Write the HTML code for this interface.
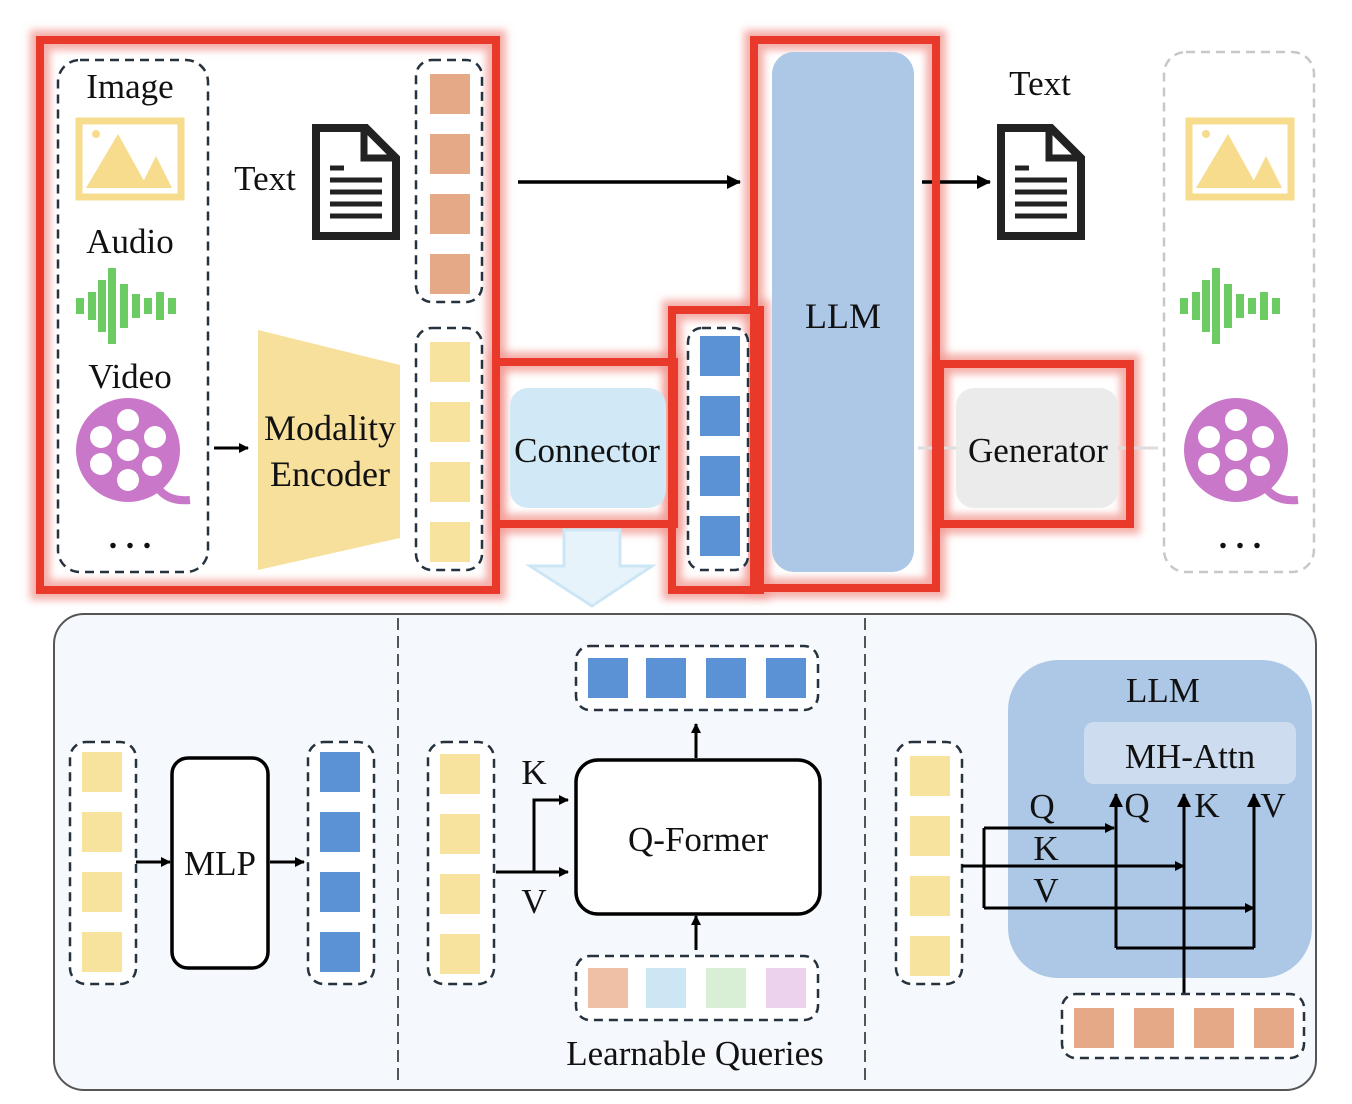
<!DOCTYPE html>
<html><head><meta charset="utf-8"><style>body{margin:0;background:#fff}svg{display:block}svg text{font-family:"Liberation Serif","DejaVu Serif",serif !important;fill:#111}</style></head><body>
<svg width="1352" height="1104" viewBox="0 0 1352 1104" xmlns="http://www.w3.org/2000/svg" font-family="Liberation Serif, serif">
<defs>
<marker id="ar" markerWidth="10" markerHeight="10" refX="9" refY="5" orient="auto" markerUnits="userSpaceOnUse"><path d="M0,0 L10,5 L0,10 z" fill="#000"/></marker>
<marker id="ab" markerWidth="14" markerHeight="14" refX="13" refY="7" orient="auto" markerUnits="userSpaceOnUse"><path d="M0,0 L14,7 L0,14 z" fill="#000"/></marker>
<filter id="blur" x="-10%" y="-10%" width="120%" height="120%"><feGaussianBlur stdDeviation="4"/></filter>
<g id="doc"><path d="M0,0 H50 L80,30 V108 H0 Z" fill="#fff" stroke="#222" stroke-width="8"/><path d="M48,2 V30 H78" fill="none" stroke="#222" stroke-width="7"/><g stroke="#222" stroke-width="5"><line x1="14" y1="40" x2="28" y2="40"/><line x1="14" y1="52" x2="66" y2="52"/><line x1="14" y1="64" x2="66" y2="64"/><line x1="14" y1="76" x2="66" y2="76"/><line x1="14" y1="88" x2="66" y2="88"/></g></g>
<g id="img"><rect x="3" y="3" width="102" height="76" fill="#fff" stroke="#f6dc8c" stroke-width="7"/><path d="M10,70 L42,16 L72,70 Z M64,70 L80,38 L96,70 Z" fill="#f6dc8c"/><circle cx="20" cy="16" r="4" fill="#f6dc8c"/></g>
<g id="wave" fill="#6dcb63"><rect x="0" y="30" width="8" height="16"/><rect x="12" y="24" width="8" height="28"/><rect x="22" y="12" width="8" height="52"/><rect x="32" y="0" width="8" height="76"/><rect x="44" y="16" width="8" height="44"/><rect x="56" y="26" width="8" height="24"/><rect x="68" y="30" width="8" height="16"/><rect x="80" y="24" width="8" height="28"/><rect x="92" y="30" width="8" height="16"/></g>
<g id="reel"><circle cx="0" cy="0" r="52" fill="#c977c8"/><path d="M30,38 Q40,52 62,50" stroke="#c977c8" stroke-width="8" fill="none"/><g fill="#fff"><circle cx="0" cy="0" r="11"/><circle cx="0" cy="-30" r="11"/><circle cx="0" cy="30" r="11"/><circle cx="-27" cy="-13" r="11"/><circle cx="27" cy="-13" r="11"/><circle cx="-27" cy="14" r="11"/><circle cx="24" cy="16" r="10"/></g></g>
</defs>

<g fill="none" stroke="#f29a93" stroke-width="20" stroke-opacity="0.8" filter="url(#blur)">
<rect x="40" y="40" width="456" height="550"/><rect x="754" y="40" width="182" height="548"/><rect x="496" y="362" width="178" height="162"/><rect x="672" y="310" width="88" height="280"/><rect x="940" y="364" width="190" height="160"/>
</g>

<rect x="58" y="60" width="150" height="512" rx="22" fill="#fff" stroke="#26323d" stroke-width="2.5" stroke-dasharray="9,6"/>
<text x="130" y="98" font-size="35" text-anchor="middle">Image</text>
<use href="#img" x="76" y="118"/>
<text x="130" y="253" font-size="35" text-anchor="middle">Audio</text>
<use href="#wave" x="76" y="268"/>
<text x="130" y="388" font-size="35" text-anchor="middle">Video</text>
<use href="#reel" x="128" y="450"/>
<text x="130" y="548" font-size="34" text-anchor="middle" font-weight="bold">. . .</text>
<line x1="214" y1="448" x2="248" y2="448" stroke="#000" stroke-width="3" marker-end="url(#ar)"/>
<polygon points="258,330 400,365 400,538 258,570" fill="#f7e09b"/>
<text x="330" y="440" font-size="36" text-anchor="middle">Modality</text>
<text x="330" y="486" font-size="36" text-anchor="middle">Encoder</text>
<text x="265" y="190" font-size="35" text-anchor="middle">Text</text>
<use href="#doc" x="316" y="128"/>
<rect x="416" y="60" width="66" height="242" rx="16" fill="#fff" stroke="#26323d" stroke-width="2.5" stroke-dasharray="9,6"/>
<g fill="#e6a987"><rect x="430" y="74" width="40" height="40"/><rect x="430" y="134" width="40" height="40"/><rect x="430" y="194" width="40" height="40"/><rect x="430" y="254" width="40" height="40"/></g>
<rect x="416" y="328" width="66" height="242" rx="16" fill="#fff" stroke="#26323d" stroke-width="2.5" stroke-dasharray="9,6"/>
<g fill="#f7e29e"><rect x="430" y="342" width="40" height="40"/><rect x="430" y="402" width="40" height="40"/><rect x="430" y="462" width="40" height="40"/><rect x="430" y="522" width="40" height="40"/></g>
<line x1="518" y1="182" x2="740" y2="182" stroke="#000" stroke-width="3.5" marker-end="url(#ab)"/>

<path d="M564,530 H620 V566 H652 L592,606 L530,566 H564 Z" fill="#e6f3fb" stroke="#cde6f5" stroke-width="3"/>

<rect x="510" y="388" width="156" height="120" rx="18" fill="#d1e9f6"/>
<text x="587" y="462" font-size="35" text-anchor="middle">Connector</text>
<rect x="688" y="328" width="60" height="242" rx="14" fill="#fff" stroke="#26323d" stroke-width="2.5" stroke-dasharray="9,6"/>
<g fill="#5b92d6"><rect x="700" y="336" width="40" height="40"/><rect x="700" y="396" width="40" height="40"/><rect x="700" y="456" width="40" height="40"/><rect x="700" y="516" width="40" height="40"/></g>
<rect x="772" y="52" width="142" height="520" rx="22" fill="#adc8e6"/>
<text x="843" y="328" font-size="36" text-anchor="middle">LLM</text>
<line x1="922" y1="182" x2="990" y2="182" stroke="#000" stroke-width="3.5" marker-end="url(#ab)"/>
<text x="1040" y="95" font-size="35" text-anchor="middle">Text</text>
<use href="#doc" x="1001" y="128"/>
<line x1="918" y1="448" x2="956" y2="448" stroke="#ddd" stroke-width="3"/>
<line x1="1118" y1="448" x2="1158" y2="448" stroke="#ddd" stroke-width="3"/>
<rect x="956" y="388" width="162" height="120" rx="18" fill="#ebebeb"/>
<text x="1038" y="462" font-size="35" text-anchor="middle">Generator</text>
<rect x="1164" y="52" width="150" height="520" rx="22" fill="#fff" stroke="#c8c8c8" stroke-width="2.5" stroke-dasharray="9,6"/>
<use href="#img" x="1186" y="118"/>
<use href="#wave" x="1180" y="268"/>
<use href="#reel" x="1236" y="450"/>
<text x="1240" y="548" font-size="34" text-anchor="middle" font-weight="bold">. . .</text>

<g fill="none" stroke="#e8392b" stroke-width="8">
<rect x="40" y="40" width="456" height="550"/><rect x="754" y="40" width="182" height="548"/><rect x="496" y="362" width="178" height="162"/><rect x="672" y="310" width="88" height="280"/><rect x="940" y="364" width="190" height="160"/>
</g>

<rect x="54" y="614" width="1262" height="476" rx="30" fill="#f5f9fd" stroke="#555" stroke-width="2"/>
<line x1="398" y1="618" x2="398" y2="1084" stroke="#555" stroke-width="2" stroke-dasharray="12,6"/>
<line x1="865" y1="618" x2="865" y2="1084" stroke="#555" stroke-width="2" stroke-dasharray="12,6"/>

<rect x="70" y="742" width="66" height="242" rx="16" fill="#fff" stroke="#26323d" stroke-width="2.5" stroke-dasharray="9,6"/>
<g fill="#f7e29e"><rect x="82" y="752" width="40" height="40"/><rect x="82" y="812" width="40" height="40"/><rect x="82" y="872" width="40" height="40"/><rect x="82" y="932" width="40" height="40"/></g>
<line x1="136" y1="862" x2="170" y2="862" stroke="#000" stroke-width="3" marker-end="url(#ar)"/>
<rect x="172" y="758" width="96" height="210" rx="16" fill="#fff" stroke="#000" stroke-width="3.5"/>
<text x="220" y="875" font-size="35" text-anchor="middle">MLP</text>
<line x1="270" y1="862" x2="304" y2="862" stroke="#000" stroke-width="3" marker-end="url(#ar)"/>
<rect x="308" y="742" width="66" height="242" rx="16" fill="#fff" stroke="#26323d" stroke-width="2.5" stroke-dasharray="9,6"/>
<g fill="#5b92d6"><rect x="320" y="752" width="40" height="40"/><rect x="320" y="812" width="40" height="40"/><rect x="320" y="872" width="40" height="40"/><rect x="320" y="932" width="40" height="40"/></g>

<rect x="428" y="742" width="66" height="242" rx="16" fill="#fff" stroke="#26323d" stroke-width="2.5" stroke-dasharray="9,6"/>
<g fill="#f7e29e"><rect x="440" y="754" width="40" height="40"/><rect x="440" y="814" width="40" height="40"/><rect x="440" y="874" width="40" height="40"/><rect x="440" y="934" width="40" height="40"/></g>
<line x1="496" y1="872" x2="568" y2="872" stroke="#000" stroke-width="3" marker-end="url(#ar)"/>
<polyline points="534,872 534,800 568,800" fill="none" stroke="#000" stroke-width="3" marker-end="url(#ar)"/>
<text x="534" y="784" font-size="35" text-anchor="middle">K</text>
<text x="534" y="913" font-size="35" text-anchor="middle">V</text>
<rect x="576" y="760" width="244" height="154" rx="22" fill="#fff" stroke="#000" stroke-width="3.5"/>
<text x="698" y="851" font-size="35" text-anchor="middle">Q-Former</text>
<line x1="696" y1="758" x2="696" y2="724" stroke="#000" stroke-width="3" marker-end="url(#ar)"/>
<rect x="576" y="646" width="242" height="64" rx="14" fill="#fff" stroke="#26323d" stroke-width="2.5" stroke-dasharray="9,6"/>
<g fill="#5b92d6"><rect x="588" y="658" width="40" height="40"/><rect x="646" y="658" width="40" height="40"/><rect x="706" y="658" width="40" height="40"/><rect x="766" y="658" width="40" height="40"/></g>
<line x1="696" y1="950" x2="696" y2="916" stroke="#000" stroke-width="3" marker-end="url(#ar)"/>
<rect x="576" y="956" width="242" height="64" rx="14" fill="#fff" stroke="#26323d" stroke-width="2.5" stroke-dasharray="9,6"/>
<rect x="588" y="968" width="40" height="40" fill="#efc0a6"/><rect x="646" y="968" width="40" height="40" fill="#cde6f4"/><rect x="706" y="968" width="40" height="40" fill="#d9efd5"/><rect x="766" y="968" width="40" height="40" fill="#ecd2ec"/>
<text x="695" y="1065" font-size="35" text-anchor="middle">Learnable Queries</text>

<rect x="1008" y="660" width="304" height="318" rx="50" fill="#adc8e6"/>
<text x="1163" y="702" font-size="35" text-anchor="middle">LLM</text>
<rect x="1084" y="722" width="212" height="62" rx="10" fill="#cddcee"/>
<text x="1190" y="768" font-size="35" text-anchor="middle">MH-Attn</text>
<rect x="896" y="742" width="66" height="242" rx="16" fill="#fff" stroke="#26323d" stroke-width="2.5" stroke-dasharray="9,6"/>
<g fill="#f7e29e"><rect x="910" y="756" width="40" height="40"/><rect x="910" y="816" width="40" height="40"/><rect x="910" y="876" width="40" height="40"/><rect x="910" y="936" width="40" height="40"/></g>
<g fill="none" stroke="#000" stroke-width="3">
<line x1="962" y1="866" x2="1184" y2="866" marker-end="url(#ar)"/>
<line x1="984" y1="828" x2="984" y2="908"/>
<line x1="984" y1="828" x2="1114" y2="828" marker-end="url(#ar)"/>
<line x1="984" y1="908" x2="1254" y2="908" marker-end="url(#ar)"/>
<polyline points="1116,948 1254,948"/>
<line x1="1116" y1="948" x2="1116" y2="794" marker-end="url(#ab)"/>
<line x1="1254" y1="948" x2="1254" y2="794" marker-end="url(#ab)"/>
<line x1="1184" y1="994" x2="1184" y2="794" marker-end="url(#ab)"/>
</g>
<text x="1042" y="818" font-size="35" text-anchor="middle">Q</text>
<text x="1046" y="860" font-size="35" text-anchor="middle">K</text>
<text x="1046" y="902" font-size="35" text-anchor="middle">V</text>
<text x="1137" y="817" font-size="35" text-anchor="middle">Q</text>
<text x="1207" y="817" font-size="35" text-anchor="middle">K</text>
<text x="1273" y="817" font-size="35" text-anchor="middle">V</text>
<rect x="1062" y="994" width="242" height="64" rx="14" fill="#fff" stroke="#26323d" stroke-width="2.5" stroke-dasharray="9,6"/>
<g fill="#e6a987"><rect x="1074" y="1008" width="40" height="40"/><rect x="1134" y="1008" width="40" height="40"/><rect x="1194" y="1008" width="40" height="40"/><rect x="1254" y="1008" width="40" height="40"/></g>
</svg>
</body></html>
